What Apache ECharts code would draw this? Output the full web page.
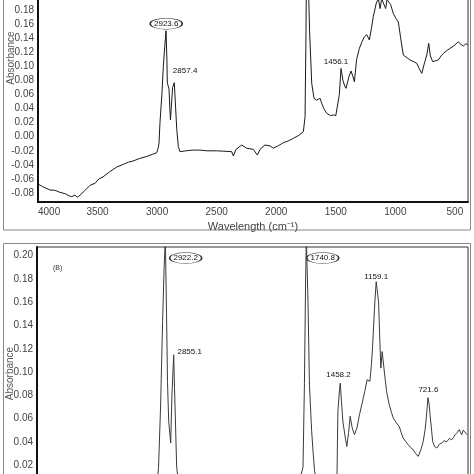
<!DOCTYPE html>
<html>
<head>
<meta charset="utf-8">
<script src="https://cdn.jsdelivr.net/npm/echarts@6/dist/echarts.min.js"></script>
<style>
  html, body { margin: 0; padding: 0; background: #fff; }
  #chart { width: 474px; height: 474px; }
</style>
</head>
<body>
<div id="chart"></div>
<script>
// spectrum (A) - wavenumber / absorbance
const topWave = [4000, 3960, 3899, 3860, 3815, 3770, 3740, 3717, 3690, 3670, 3647, 3610, 3563, 3520, 3490, 3454, 3400, 3339, 3280, 3240, 3202, 3150, 3087, 3040, 3003, 2990, 2984, 2976, 2960, 2948, 2935, 2925, 2918, 2914, 2906, 2900, 2893, 2888, 2880, 2870, 2856, 2848, 2835, 2822, 2808, 2760, 2700, 2640, 2580, 2500, 2440, 2374, 2360, 2338, 2290, 2248, 2192, 2159, 2136, 2094, 2052, 2024, 1982, 1940, 1900, 1856, 1810, 1772, 1758, 1750, 1744, 1735, 1720, 1702, 1683, 1660, 1632, 1618, 1600, 1576, 1545, 1520, 1500, 1487, 1470, 1456, 1440, 1425, 1414, 1390, 1372, 1355, 1344, 1325, 1302, 1280, 1260, 1240, 1218, 1200, 1185, 1160, 1142, 1128, 1115, 1100, 1081, 1070, 1059, 1040, 1017, 995, 975, 955, 933, 900, 877, 850, 820, 800, 778, 755, 736, 720, 706, 686, 660, 639, 615, 597, 570, 541, 510, 490, 471, 450, 429, 410, 392];
const topAbs = [-0.067, -0.071, -0.0757, -0.076, -0.079, -0.081, -0.084, -0.085, -0.083, -0.086, -0.083, -0.077, -0.069, -0.066, -0.06, -0.057, -0.05, -0.043, -0.039, -0.036, -0.0345, -0.031, -0.028, -0.025, -0.0227, -0.015, -0.009, 0.02, 0.06, 0.0995, 0.13, 0.1506, 0.11, 0.076, 0.0735, 0.068, 0.04, 0.0238, 0.045, 0.07, 0.0768, 0.052, 0.01, -0.014, -0.0212, -0.02, -0.019, -0.019, -0.02, -0.02, -0.0205, -0.0212, -0.0274, -0.018, -0.0117, -0.0163, -0.018, -0.026, -0.018, -0.0117, -0.013, -0.0163, -0.0127, -0.0085, -0.006, -0.0023, 0.002, 0.0073, 0.0285, 0.15, 0.29, 0.25, 0.15, 0.076, 0.0546, 0.052, 0.0546, 0.0475, 0.04, 0.0333, 0.03, 0.031, 0.03, 0.0276, 0.06, 0.097, 0.08, 0.072, 0.0688, 0.085, 0.0934, 0.085, 0.078, 0.11, 0.1255, 0.135, 0.142, 0.145, 0.1374, 0.155, 0.1705, 0.19, 0.196, 0.182, 0.196, 0.198, 0.182, 0.195, 0.197, 0.188, 0.175, 0.168, 0.163, 0.14, 0.116, 0.112, 0.109, 0.107, 0.1043, 0.097, 0.09, 0.105, 0.116, 0.1327, 0.115, 0.1066, 0.108, 0.109, 0.115, 0.1185, 0.122, 0.1255, 0.129, 0.132, 0.135, 0.131, 0.129, 0.132, 0.131];

// spectrum (B)
const botWave = [4000, 3900, 3800, 3700, 3600, 3500, 3400, 3300, 3200, 3100, 3020, 2990, 2982, 2965, 2948, 2935, 2925, 2922, 2915, 2907, 2897, 2880, 2870, 2855, 2848, 2830, 2815, 2700, 2500, 2300, 2100, 1900, 1800, 1772, 1760, 1750, 1744, 1740, 1730, 1718, 1700, 1688, 1675, 1660, 1600, 1540, 1500, 1487, 1480, 1466, 1460, 1450, 1438, 1420, 1405, 1390, 1377, 1360, 1341, 1320, 1299, 1275, 1255, 1235, 1212, 1200, 1190, 1170, 1159, 1150, 1139, 1128, 1120, 1109, 1094, 1072, 1050, 1030, 1016, 988, 966, 950, 933, 910, 891, 870, 849, 830, 807, 785, 765, 750, 742, 725, 715, 708, 695, 686, 670, 652, 630, 610, 590, 569, 545, 526, 510, 499, 480, 463, 443, 430, 421, 396];
const botAbs = [0.004, 0.003, 0.002, 0.002, 0.003, 0.004, 0.005, 0.005, 0.006, 0.007, 0.008, 0.01, 0.0178, 0.07, 0.1434, 0.19, 0.215, 0.215, 0.15, 0.092, 0.0576, 0.039, 0.08, 0.1148, 0.086, 0.018, 0.006, 0.004, 0.004, 0.004, 0.005, 0.006, 0.008, 0.018, 0.09, 0.18, 0.215, 0.215, 0.16, 0.089, 0.05, 0.032, 0.0146, 0.008, 0.005, 0.006, 0.007, 0.012, 0.066, 0.085, 0.0905, 0.075, 0.0576, 0.045, 0.036, 0.048, 0.062, 0.052, 0.0462, 0.052, 0.0633, 0.074, 0.0833, 0.0934, 0.092, 0.105, 0.1205, 0.1605, 0.1777, 0.17, 0.16, 0.126, 0.1034, 0.1176, 0.1034, 0.0833, 0.072, 0.065, 0.0605, 0.056, 0.0533, 0.048, 0.0433, 0.04, 0.0376, 0.035, 0.0333, 0.03, 0.0275, 0.033, 0.0404, 0.05, 0.0576, 0.078, 0.072, 0.0633, 0.05, 0.0404, 0.036, 0.0347, 0.038, 0.039, 0.041, 0.04, 0.043, 0.0418, 0.044, 0.046, 0.048, 0.0505, 0.046, 0.05, 0.049, 0.046];

// peak labels
const topPeakWave = [2923.6, 2857.4, 1456.1];
const topPeakAbs = [0.1506, 0.0768, 0.097];
const topPeakLabel = ['2923.6', '2857.4', '1456.1'];
const botPeakWave = [2922.2, 2855.1, 1740.8, 1159.1, 1458.2, 721.6];
const botPeakAbs = [0.2075, 0.1148, 0.2075, 0.1777, 0.0905, 0.078];
const botPeakLabel = ['2922.2', '2855.1', '1740.8', '1159.1', '1458.2', '721.6'];

const xTicks = [4000, 3500, 3000, 2500, 2000, 1500, 1000, 500];
const topYTicks = [-0.08, -0.06, -0.04, -0.02, 0.00, 0.02, 0.04, 0.06, 0.08, 0.10, 0.12, 0.14, 0.16, 0.18];
const botYTicks = [0.00, 0.02, 0.04, 0.06, 0.08, 0.10, 0.12, 0.14, 0.16, 0.18, 0.20];

const chart = echarts.init(document.getElementById('chart'));

const font = 'Liberation Sans';
const toPairs = (xs, ys) => xs.map((x, i) => [x, ys[i]]);

// label placement (pixel offsets from the peak) and which ones are circled
const topOffsets = [[0, -7], [11, -12], [-5, -7]];
const topBoxed = [true, false, false];
const botOffsets = [[20, 11], [16, -3], [16, 11], [0, -5], [-2, -8], [0, -8]];
const botBoxed = [true, false, true, false, false, false];

function peakMarks(waves, abs, labels, offsets, boxed) {
  return waves.map((w, i) => ({
    name: labels[i],
    coord: [w, abs[i]],
    symbol: 'circle',
    symbolSize: boxed[i] ? [32, 11] : [28, 9],
    symbolOffset: offsets[i],
    itemStyle: boxed[i]
      ? { color: '#fff', borderColor: '#333', borderWidth: 1 }
      : { color: 'rgba(0,0,0,0)', borderWidth: 0 }
  }));
}

function xAxisCfg(gridIndex, withName) {
  return {
    type: 'value',
    gridIndex: gridIndex,
    inverse: true,
    min: 390,
    max: 4000,
    name: withName ? 'Wavelength (cm⁻¹)' : '',
    nameLocation: 'middle',
    nameGap: 9,
    nameTextStyle: { fontFamily: font, fontSize: 11, color: '#444' },
    axisLine: { show: true, onZero: false, lineStyle: { color: '#111', width: 2 } },
    axisTick: { show: false },
    splitLine: { show: false },
    axisLabel: {
      customValues: xTicks,
      formatter: v => String(v),
      fontFamily: font,
      fontSize: 10,
      color: '#444',
      margin: 5,
      alignMinLabel: 'left',
      alignMaxLabel: 'center'
    }
  };
}

function yAxisCfg(gridIndex, min, max, ticks) {
  return {
    type: 'value',
    gridIndex: gridIndex,
    min: min,
    max: max,
    name: 'Absorbance',
    nameLocation: 'middle',
    nameGap: 22,
    nameMoveOverlap: false,
    nameTextStyle: { fontFamily: font, fontSize: 10, color: '#555' },
    axisLine: { show: true, onZero: false, lineStyle: { color: '#111', width: 2 } },
    axisTick: { show: false },
    splitLine: { show: false },
    axisLabel: {
      customValues: ticks,
      formatter: v => v.toFixed(2),
      fontFamily: font,
      fontSize: 10,
      color: '#444',
      margin: 4
    }
  };
}

const markLabel = {
  show: true,
  position: 'inside',
  formatter: '{b}',
  fontFamily: font,
  fontSize: 8,
  color: '#111'
};

chart.setOption({
  animation: false,
  backgroundColor: '#fff',
  grid: [
    { left: 38, right: 6, top: -86, bottom: 272, outerBoundsMode: 'none', containLabel: false,
      show: true, borderColor: '#333', borderWidth: 1 },
    { left: 37, right: 6, top: 247, bottom: -26, outerBoundsMode: 'none', containLabel: false,
      show: true, borderColor: '#333', borderWidth: 1 }
  ],
  xAxis: [xAxisCfg(0, true), xAxisCfg(1, true)],
  yAxis: [
    yAxisCfg(0, -0.0927, 0.3164, topYTicks),
    yAxisCfg(1, -0.01, 0.2075, botYTicks)
  ],
  graphic: [
    { type: 'rect', silent: true, z: -1, shape: { x: 3.5, y: -20, width: 467, height: 250 },
      style: { fill: 'none', stroke: '#888', lineWidth: 1 } },
    { type: 'rect', silent: true, z: -1, shape: { x: 3.5, y: 243.5, width: 467, height: 260 },
      style: { fill: 'none', stroke: '#888', lineWidth: 1 } },
    { type: 'text', left: 53, top: 265, silent: true,
      style: { text: '(B)', font: '7px ' + font, fill: '#333' } }
  ],
  series: [
    {
      type: 'line',
      xAxisIndex: 0,
      yAxisIndex: 0,
      data: toPairs(topWave, topAbs),
      showSymbol: false,
      lineStyle: { color: '#1a1a1a', width: 1 },
      markPoint: {
        label: markLabel,
        data: peakMarks(topPeakWave, topPeakAbs, topPeakLabel, topOffsets, topBoxed)
      }
    },
    {
      type: 'line',
      xAxisIndex: 1,
      yAxisIndex: 1,
      data: toPairs(botWave, botAbs),
      showSymbol: false,
      lineStyle: { color: '#3a3a3a', width: 1 },
      markPoint: {
        label: markLabel,
        data: peakMarks(botPeakWave, botPeakAbs, botPeakLabel, botOffsets, botBoxed)
      }
    }
  ]
});
</script>
</body>
</html>
